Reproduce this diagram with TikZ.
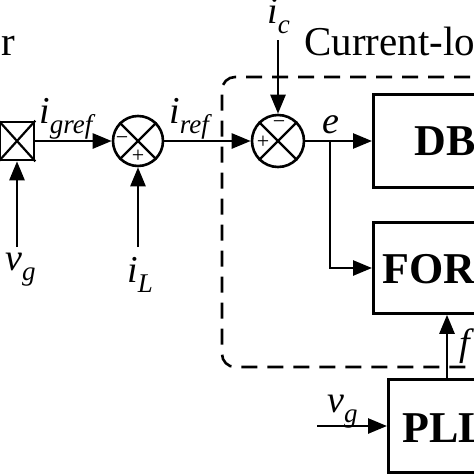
\documentclass[tikz,border=0pt]{standalone}
\usepackage{fontspec}
\setmainfont{Liberation Serif}
\usetikzlibrary{arrows.meta}
\newcommand\lblsub[2]{\textit{#1}\raisebox{-0.28em}{\fontsize{27}{27}\selectfont\textit{#2}}}
\begin{document}
\begin{tikzpicture}[x=1pt,y=-1pt,line width=2.6pt,
  >={Triangle[length=19pt,width=15pt]},
  blk/.style={draw,rectangle,inner sep=0pt},
  sumc/.style={draw,circle,minimum size=50pt,inner sep=0pt},
  lbl/.style={inner sep=0pt,font=\fontsize{38}{38}\selectfont},
  bold/.style={inner sep=0pt,font=\fontsize{44}{44}\selectfont\bfseries},
  plain/.style={inner sep=0pt,font=\fontsize{41}{41}\selectfont},
  sgn/.style={inner sep=0pt,font=\fontsize{22}{22}\selectfont},
  dashbox/.style={dash pattern=on 16pt off 10pt,rounded corners=13pt}]
\useasboundingbox (0,0) rectangle (474,474);
% dashed current-loop region
\draw[dashbox] (600,77) -- (222,77) -- (222,367) -- (600,367);
% multiplier
\node[blk,minimum width=34pt,minimum height=38pt] (mul) at (17,141) {};
\draw[line width=2.2pt] (mul.north west) -- (mul.south east) (mul.south west) -- (mul.north east);
% summing junctions
\node[sumc] (s1) at (138,141) {};
\draw[line width=2.2pt] (s1.north west) -- (s1.south east) (s1.south west) -- (s1.north east);
\node[sgn] (s1m) at (122,141) {−};
\node[sgn] (s1p) at (138,156) {+};
\node[sumc,minimum size=52pt] (s2) at (278,141) {};
\draw[line width=2.2pt] (s2.north west) -- (s2.south east) (s2.south west) -- (s2.north east);
\node[sgn] (s2p) at (263,142) {+};
\node[sgn] (s2m) at (279,125) {−};
% blocks
\node[blk,minimum width=200pt,minimum height=93pt,anchor=west] (db) at (372,141) {};
\node[blk,minimum width=200pt,minimum height=91pt,anchor=west] (for) at (372,268) {};
\node[blk,minimum width=200pt,minimum height=93pt,anchor=west] (pll) at (387,426) {};
\node[bold,anchor=base west] (dbt) at (413,155) {DB};
\node[bold,anchor=base west] (fort) at (381,283) {FOR};
\node[bold,anchor=base west] (pllt) at (401,442) {PLL};
% texts
\node[plain,anchor=base east] (ctl) at (16,55) {er};
\node[plain,anchor=base west] (cur) at (303,55) {Current-lo};
\node[lbl,anchor=base west] (igref) at (38,123) {\lblsub{i}{gref}};
\node[lbl,anchor=base west] (iref) at (168,123) {\lblsub{i}{ref}};
\node[lbl,anchor=base west] (ic) at (266,23) {\lblsub{i}{c}};
\node[lbl,anchor=base west] (e) at (321,133) {\textit{e}};
\node[lbl,anchor=base west] (vg1) at (4,270) {\lblsub{v}{g}};
\node[lbl,anchor=base west] (iL) at (126,282) {\lblsub{i}{L}};
\node[lbl,anchor=base west] (vg2) at (326,412) {\lblsub{v}{g}};
\node[lbl,anchor=base west] (f) at (458,355) {\textit{f}};
% coordinates
\coordinate (vgin) at (17,247);
\coordinate (iLin) at (138,247);
\coordinate (icin) at (278,40);
\coordinate (br) at (330,141);
\coordinate (vgp) at (317,426);
\coordinate (fx) at (447,340);
% connectors
\draw[->] (mul.east) -- (s1.west);
\draw[->] (s1.east) -- (s2.west);
\draw[->] (s2.east) -- (db.west);
\draw[->] (br) |- (for.west);
\draw[->] (vgin) -- (mul.south);
\draw[->] (iLin) -- (s1.south);
\draw[->] (icin) -- (s2.north);
\draw[->] (vgp) -- (pll.west);
\draw[->] (fx |- pll.north) -- (fx |- for.south);
\end{tikzpicture}
\end{document}
